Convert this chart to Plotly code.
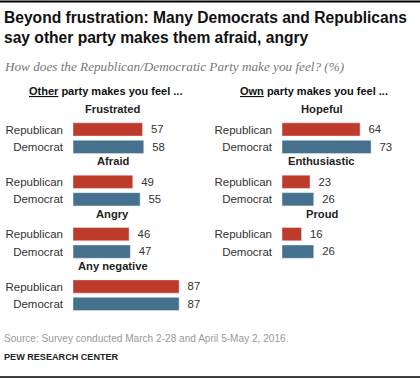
import plotly.graph_objects as go

# ---- data ----
left_groups = ["Frustrated", "Afraid", "Angry", "Any negative"]
left_rep = [57, 49, 46, 87]
left_dem = [58, 55, 47, 87]

right_groups = ["Hopeful", "Enthusiastic", "Proud"]
right_rep = [64, 23, 16]
right_dem = [73, 26, 26]

row_labels = ["Republican", "Democrat"]

title_text = "Beyond frustration: Many Democrats and Republicans<br>say other party makes them afraid, angry"
subtitle_text = "How does the Republican/Democratic Party make you feel? (%)"
left_header = "<b><u>Other</u> party makes you feel ...</b>"
right_header = "<b><u>Own</u> party makes you feel ...</b>"
source_text = "Source: Survey conducted March 2-28 and April 5-May 2, 2016."
org_text = "PEW RESEARCH CENTER"

RED = "#BE3A2B"
BLUE = "#45708E"
FONT = "Liberation Sans, Arial, sans-serif"

fig = go.Figure()


def add_panel(groups, rep, dem, xa, ya):
    n = len(groups)
    rep_y = [g * 3 for g in range(n)]
    dem_y = [g * 3 + 1 for g in range(n)]
    for vals, ys, col in ((rep, rep_y, RED), (dem, dem_y, BLUE)):
        fig.add_trace(go.Bar(
            x=vals, y=ys, orientation="h", marker_color=col, width=0.76,
            text=vals, texttemplate=" \u2009%{x}", textposition="outside",
            textfont=dict(family=FONT, size=12, color="#333333"),
            cliponaxis=False, xaxis=xa, yaxis=ya, showlegend=False,
            hoverinfo="skip"))
    for g, name in enumerate(groups):
        fig.add_annotation(x=32.5, y=g * 3 - 1.17, xref=xa, yref=ya,
                           text="<b>" + name + "</b>", showarrow=False,
                           xanchor="center", yanchor="middle",
                           font=dict(family=FONT, size=11.2, color="#222222"))
    tickvals = sorted(rep_y + dem_y)
    ticktext = [row_labels[v % 3] for v in tickvals]
    return tickvals, ticktext


lt_v, lt_t = add_panel(left_groups, left_rep, left_dem, "x", "y")
rt_v, rt_t = add_panel(right_groups, right_rep, right_dem, "x2", "y2")

yrange = [14.30, -7.42]
yax_common = dict(range=yrange, showgrid=False, zeroline=False, showline=False,
                  ticks="", ticklabelstandoff=9, fixedrange=True,
                  tickfont=dict(family=FONT, size=11.5, color="#333333"))
xax_common = dict(range=[0, 100], visible=False, fixedrange=True)

fig.update_layout(
    width=420, height=379,
    margin=dict(l=0, r=0, t=0, b=0),
    paper_bgcolor="white", plot_bgcolor="white",
    barmode="overlay",
    xaxis=dict(domain=[73 / 420, 195 / 420], anchor="y", **xax_common),
    xaxis2=dict(domain=[282 / 420, 404 / 420], anchor="y2", **xax_common),
    yaxis=dict(domain=[0, 1], anchor="x", tickvals=lt_v, ticktext=lt_t, **yax_common),
    yaxis2=dict(domain=[0, 1], anchor="x2", tickvals=rt_v, ticktext=rt_t, **yax_common),
)

paper = dict(xref="paper", yref="paper", showarrow=False)
H = 379.0


def py(px):
    return 1 - px / H


fig.add_annotation(x=2 / 420, y=py(7), text="<b>" + title_text + "</b>",
                   xanchor="left", yanchor="top", align="left",
                   font=dict(family=FONT, size=15.6, color="#111111"), **paper)
fig.add_annotation(x=2 / 420, y=py(67), text="<i>" + subtitle_text + "</i>",
                   xanchor="left", yanchor="middle", align="left",
                   font=dict(family="Liberation Serif, serif", size=13.2, color="#777777"), **paper)
fig.add_annotation(x=105 / 420, y=py(91), text=left_header,
                   xanchor="center", yanchor="middle",
                   font=dict(family=FONT, size=11, color="#111111"), **paper)
fig.add_annotation(x=314 / 420, y=py(91), text=right_header,
                   xanchor="center", yanchor="middle",
                   font=dict(family=FONT, size=11, color="#111111"), **paper)
fig.add_annotation(x=2 / 420, y=py(338), text=source_text,
                   xanchor="left", yanchor="middle",
                   font=dict(family=FONT, size=10.1, color="#999999"), **paper)
fig.add_annotation(x=2 / 420, y=py(357), text="<b>" + org_text + "</b>",
                   xanchor="left", yanchor="middle",
                   font=dict(family=FONT, size=9.1, color="#222222"), **paper)

fig.add_shape(type="line", xref="paper", yref="paper", x0=0, x1=1, y0=py(1.5), y1=py(1.5),
              line=dict(color="#000000", width=2))
fig.add_shape(type="line", xref="paper", yref="paper", x0=0, x1=1, y0=py(377), y1=py(377),
              line=dict(color="#000000", width=1.5))

fig.write_html(
    "out.html",
    config={"displayModeBar": False, "staticPlot": True},
    post_script=("document.documentElement.style.margin='0';"
                 "document.documentElement.style.overflow='hidden';"
                 "document.body.style.margin='0';document.body.style.overflow='hidden';"
                 "var d=document.getElementById('{plot_id}');"
                 "d.style.position='fixed';d.style.left='0px';d.style.top='0px';"),
)
